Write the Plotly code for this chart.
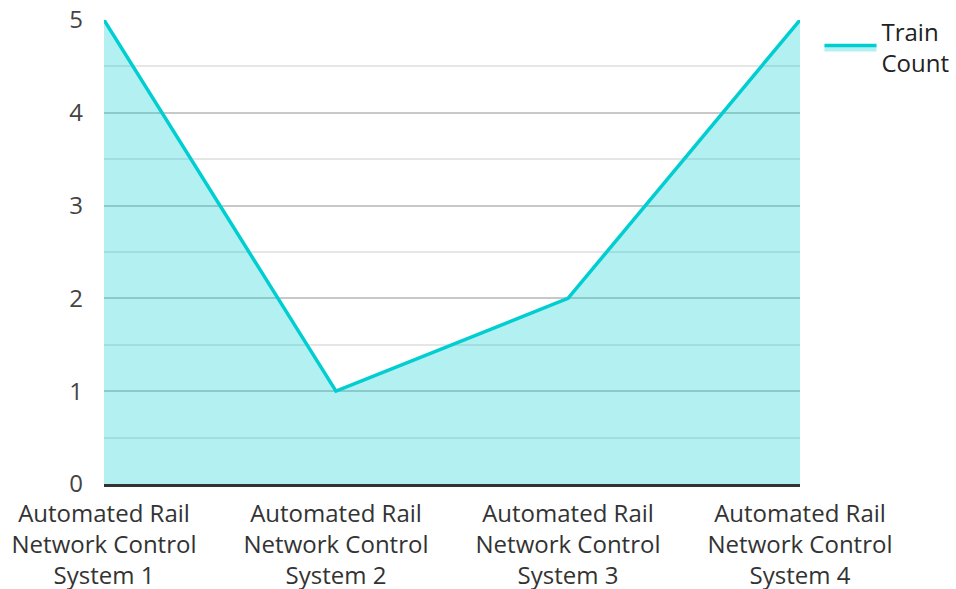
import plotly.graph_objects as go

categories = ["Automated Rail<br>Network Control<br>System 1",
              "Automated Rail<br>Network Control<br>System 2",
              "Automated Rail<br>Network Control<br>System 3",
              "Automated Rail<br>Network Control<br>System 4"]
train_count = [5, 1, 2, 5]
y_ticks = [0, 1, 2, 3, 4, 5]

x_pos = list(range(len(categories)))

fig = go.Figure()
fig.add_trace(go.Scatter(
    x=x_pos, y=train_count, mode="lines", name="Train<br>Count",
    line=dict(color="#00CED1", width=3.5),
    fill="tozeroy", fillcolor="rgba(0,206,209,0.3)",
))

fig.update_layout(
    width=956, height=589,
    margin=dict(l=104, r=156, t=20, b=105, autoexpand=False),
    paper_bgcolor="white", plot_bgcolor="white",
    font=dict(family="Open Sans", size=24, color="#444"),
    showlegend=True,
    legend=dict(x=1.028, y=1.022, xanchor="left", yanchor="top",
                font=dict(size=24, color="#222"), bgcolor="rgba(0,0,0,0)",
                itemwidth=52),
    xaxis=dict(range=[0, 3], tickvals=x_pos, ticktext=categories,
               showgrid=False, showline=True, linecolor="#333", linewidth=3,
               ticks="", zeroline=False, tickfont=dict(color="#333"),
               automargin=False, ticklabelstandoff=6),
    yaxis=dict(range=[0, 5], tickvals=y_ticks, showgrid=True,
               gridcolor="#c8c8c8", gridwidth=1.5, zeroline=False, ticks="",
               showline=False, tickfont=dict(color="#444"),
               automargin=False, ticklabelstandoff=20,
               minor=dict(dtick=0.5, showgrid=True, gridcolor="#e6e6e6", gridwidth=1.5)),
)

fig.write_html("out.html")
